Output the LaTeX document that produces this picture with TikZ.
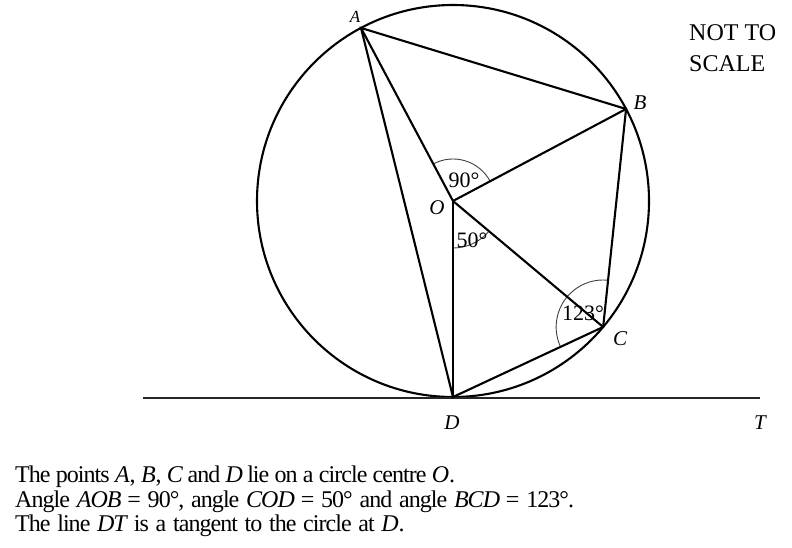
\documentclass[tikz,border=0pt]{standalone}
\usepackage{fontspec}
\setmainfont{Liberation Serif}
\newfontfamily\capfont[LetterSpace=-4]{Liberation Serif}
\usetikzlibrary{calc}
\begin{document}
\begin{tikzpicture}[x=1pt,y=1pt,
  geo/.style={line width=2.1pt, black},
  arcline/.style={line width=0.9pt, black!75},
  ptlabel/.style={font=\fontsize{21}{22}\selectfont\itshape, inner sep=0pt},
  anglabel/.style={font=\fontsize{22}{24}\selectfont, inner sep=0pt},
  caption/.style={font=\capfont\fontsize{24}{26}\selectfont, anchor=base west, inner sep=0pt}]
\useasboundingbox (0,0) rectangle (792,-548);
\coordinate (O) at (453,-201);
\def\R{196}
\coordinate (A) at ($(O)+(118:\R)$);
\coordinate (B) at ($(O)+(28:\R)$);
\coordinate (C) at ($(O)+(-40:\R)$);
\coordinate (D) at ($(O)+(-90:\R)$);
\coordinate (L) at (143,-398);
\coordinate (T) at (760,-398);
% angle arcs
\draw[arcline] ($(O)+(118:42)$) arc[start angle=118, end angle=28, radius=42];
\draw[arcline] ($(O)+(-90:47)$) arc[start angle=-90, end angle=-40, radius=47];
\draw[arcline] ($(C)+(84:47)$) arc[start angle=84, end angle=206, radius=47];
% circle and lines
\draw[geo] (O) circle (\R);
\draw[line width=1.8pt, black!85] (L) -- (T);
\draw[geo] (A) -- (B) -- (C) -- (D) -- cycle;
\draw[geo] (A) -- (O) -- (B);
\draw[geo] (O) -- (C);
\draw[geo] (O) -- (D);
% labels
\node[ptlabel, font=\fontsize{17}{20}\selectfont\itshape] (lA) at (355,-17) {A};
\node[ptlabel] (lB) at (640,-103) {B};
\node[ptlabel] (lC) at (620,-339) {C};
\node[ptlabel] (lD) at (452,-423) {D};
\node[ptlabel] (lT) at (760,-423) {T};
\node[ptlabel] (lO) at (437,-208) {O};
\node[anglabel] (a90) at (464,-180) {90°};
\node[anglabel] (a50) at (472,-240) {50°};
\node[anglabel] (a123) at (583,-313) {123°};
\node[font=\fontsize{24}{31}\selectfont, align=left, anchor=north west, inner sep=0pt] (nts) at (689,-24) {NOT TO\\SCALE};
\node[caption] (t1) at (15,-482) {\spaceskip=5.3pt plus 1pt The points \textit{A}, \textit{B}, \textit{C} and \textit{D} lie on a circle centre \textit{O}.};
\node[caption] (t2) at (15,-507) {\spaceskip=6.8pt plus 1pt Angle \textit{AOB} = 90°, angle \textit{COD} = 50° and angle \textit{BCD} = 123°.};
\node[caption] (t3) at (15,-531) {\spaceskip=6.7pt plus 1pt The line \textit{DT} is a tangent to the circle at \textit{D}.};
\end{tikzpicture}
\end{document}
